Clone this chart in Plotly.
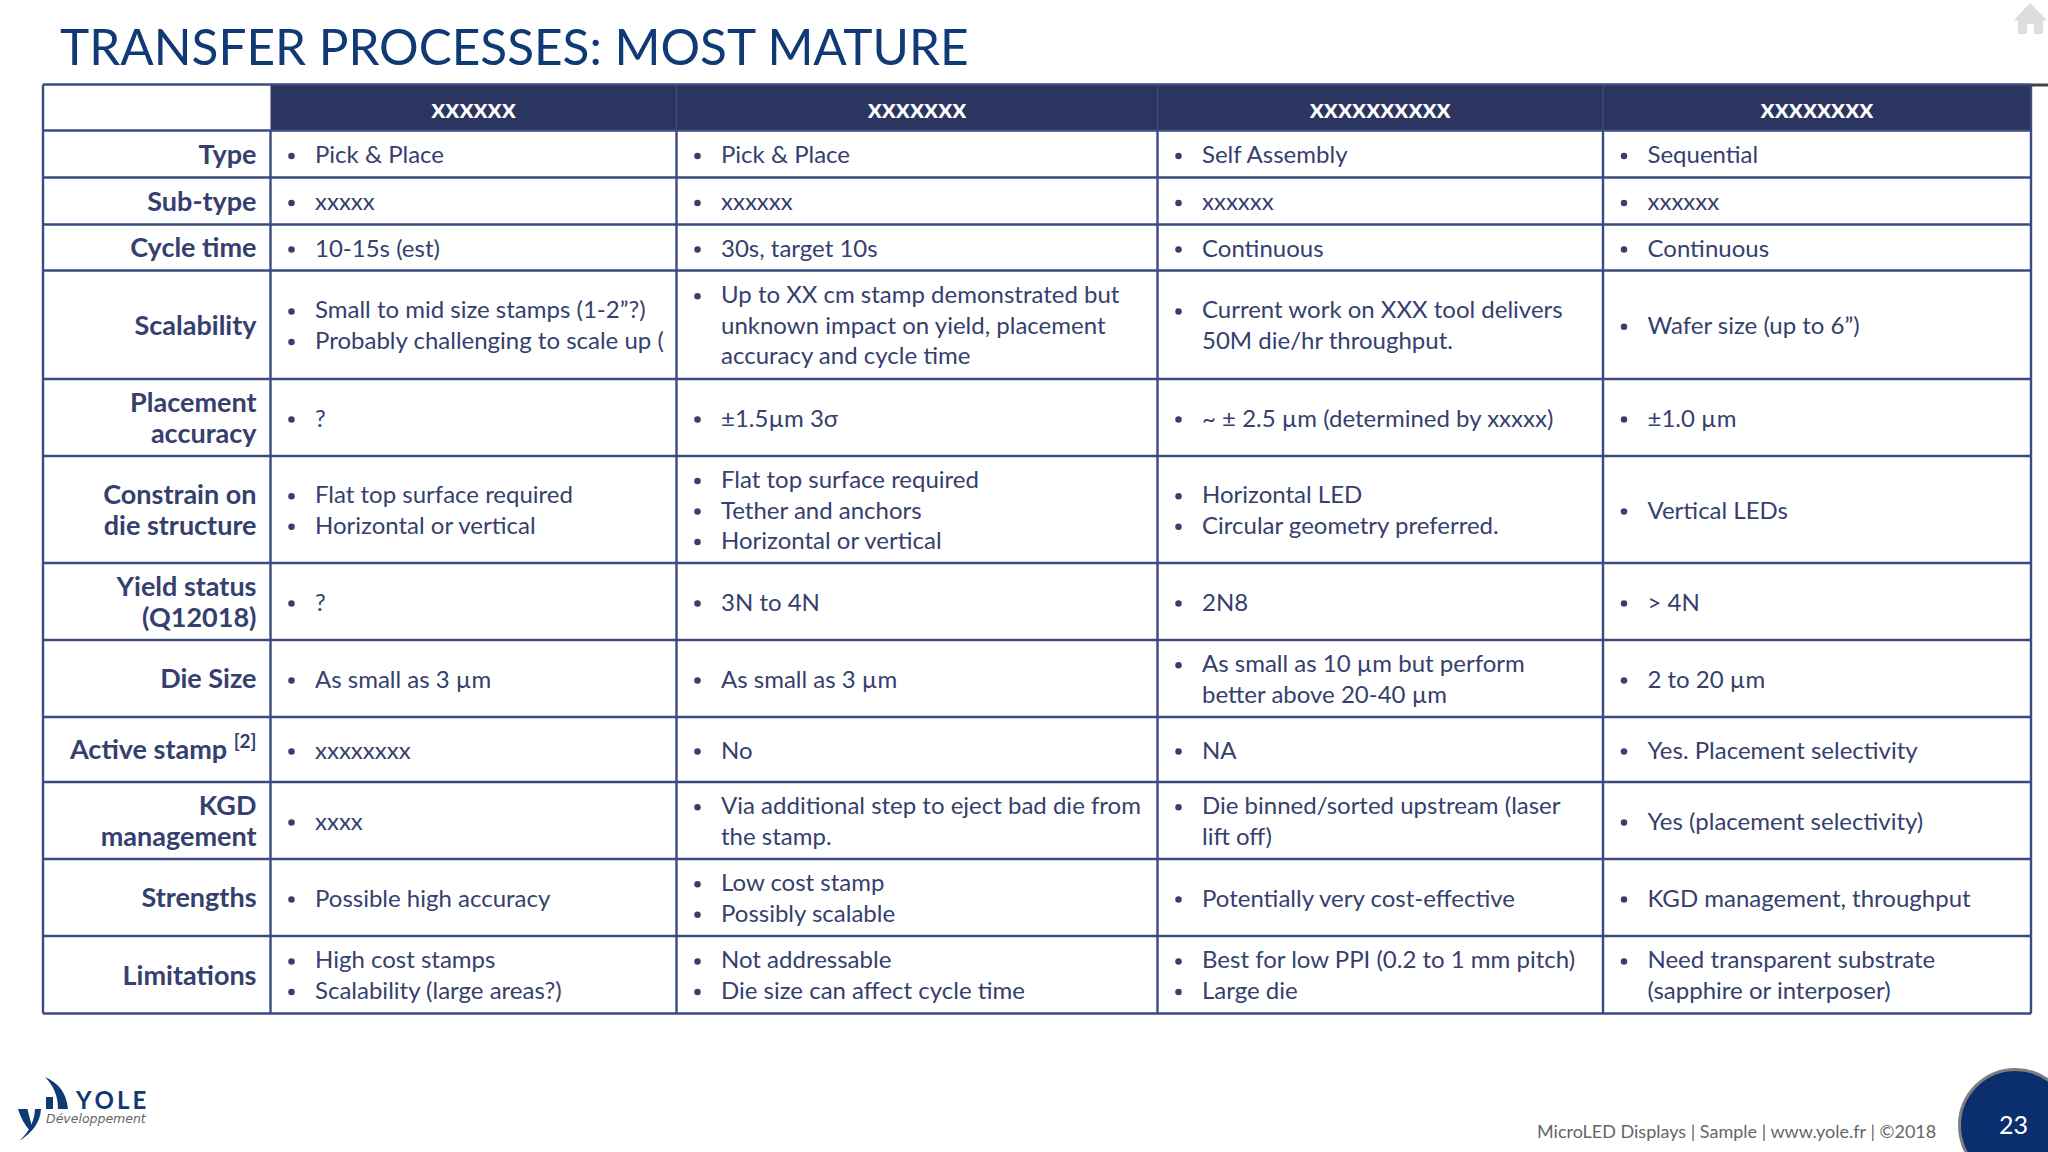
import plotly.graph_objects as go

TITLE = "TRANSFER PROCESSES: MOST MATURE"
FOOTER = "MicroLED Displays | Sample | www.yole.fr | ©2018"
PAGE = "23"

column_heads = ["xxxxxx", "xxxxxxx", "xxxxxxxxxx", "xxxxxxxx"]
row_labels = [
    ["Type"], ["Sub-type"], ["Cycle time"], ["Scalability"],
    ["Placement", "accuracy"], ["Constrain on", "die structure"],
    ["Yield status", "(Q12018)"], ["Die Size"], ["Active stamp <sup>[2]</sup>"],
    ["KGD", "management"], ["Strengths"], ["Limitations"],
]
# Each cell is a list of bullets; each bullet a list of wrapped lines
col_a = [
    [["Pick & Place"]], [["xxxxx"]], [["10-15s (est)"]],
    [["Small to mid size stamps (1-2”?)"], ["Probably challenging to scale up ("]],
    [["?"]],
    [["Flat top surface required"], ["Horizontal or vertical"]],
    [["?"]], [["As small as 3 µm"]], [["xxxxxxxx"]], [["xxxx"]],
    [["Possible high accuracy"]],
    [["High cost stamps"], ["Scalability (large areas?)"]],
]
col_b = [
    [["Pick & Place"]], [["xxxxxx"]], [["30s, target 10s"]],
    [["Up to XX cm stamp demonstrated but", "unknown impact on yield, placement", "accuracy and cycle time"]],
    [["±1.5µm 3σ"]],
    [["Flat top surface required"], ["Tether and anchors"], ["Horizontal or vertical"]],
    [["3N to 4N"]], [["As small as 3 µm"]], [["No"]],
    [["Via additional step to eject bad die from", "the stamp."]],
    [["Low cost stamp"], ["Possibly scalable"]],
    [["Not addressable"], ["Die size can affect cycle time"]],
]
col_c = [
    [["Self Assembly"]], [["xxxxxx"]], [["Continuous"]],
    [["Current work on XXX tool delivers", "50M die/hr throughput."]],
    [["~ ± 2.5 µm (determined by xxxxx)"]],
    [["Horizontal LED"], ["Circular geometry preferred."]],
    [["2N8"]],
    [["As small as 10 µm but perform", "better above 20-40 µm"]],
    [["NA"]],
    [["Die binned/sorted upstream (laser", "lift off)"]],
    [["Potentially very cost-effective"]],
    [["Best for low PPI (0.2 to 1 mm pitch)"], ["Large die"]],
]
col_d = [
    [["Sequential"]], [["xxxxxx"]], [["Continuous"]],
    [["Wafer size (up to 6”)"]],
    [["±1.0 µm"]],
    [["Vertical LEDs"]],
    [["> 4N"]], [["2 to 20 µm"]],
    [["Yes. Placement selectivity"]],
    [["Yes (placement selectivity)"]],
    [["KGD management, throughput"]],
    [["Need transparent substrate", "(sapphire or interposer)"]],
]
columns = [col_a, col_b, col_c, col_d]

# Table geometry (canvas units = page pixels)
col_edges = [43, 270.5, 676.5, 1157.5, 1603, 2031]
row_edges = [84.5, 130.5, 177.5, 224.5, 270.5, 379, 456, 563, 640, 717, 782, 859, 936, 1013.5]
LINE = 30.6
TEXT_DROP = 3
FONT = "Lato, 'Open Sans', sans-serif"
INK = "#35406e"
NAVY = "#2b3560"
GRID = "#3b4a80"
BLUE = "#0f3a75"

shapes = [dict(type="rect", x0=col_edges[1], x1=col_edges[-1], y0=row_edges[0], y1=row_edges[1],
               fillcolor=NAVY, line_width=0, layer="below")]

gx, gy = [], []
for i, x in enumerate(col_edges):
    y0 = row_edges[1] if (0 < i < len(col_edges) - 1) else row_edges[0]
    gx += [x, x, None]; gy += [y0, row_edges[-1], None]
for i, y in enumerate(row_edges):
    gx += [col_edges[0], col_edges[-1], None]; gy += [y, y, None]

fig = go.Figure()
fig.add_trace(go.Scatter(x=gx, y=gy, mode="lines", line=dict(color=GRID, width=2.4),
                         hoverinfo="skip", showlegend=False))
# header separators
fig.add_trace(go.Scatter(x=[e for c in col_edges[2:5] for e in (c, c, None)],
                         y=[e for c in col_edges[2:5] for e in (row_edges[0], row_edges[1], None)],
                         mode="lines", line=dict(color="#3f4a78", width=1.5),
                         hoverinfo="skip", showlegend=False))

# Column headings
fig.add_trace(go.Scatter(
    x=[(col_edges[i + 1] + col_edges[i + 2]) / 2 for i in range(4)],
    y=[(row_edges[0] + row_edges[1]) / 2 + 1 + TEXT_DROP] * 4,
    text=[f"<b>{h}</b>" for h in column_heads], mode="text", textposition="middle center",
    textfont=dict(family=FONT, size=27, color="white"), hoverinfo="skip", showlegend=False))

# Row labels
lx, ly, lt = [], [], []
for r, lines in enumerate(row_labels):
    cy = (row_edges[r + 1] + row_edges[r + 2]) / 2 + TEXT_DROP
    for k, t in enumerate(lines):
        lx.append(col_edges[1] - 14)
        ly.append(cy + (k - (len(lines) - 1) / 2) * LINE)
        lt.append(f"<b>{t}</b>")
fig.add_trace(go.Scatter(x=lx, y=ly, text=lt, mode="text", textposition="middle left",
                         textfont=dict(family=FONT, size=27, color=INK),
                         hoverinfo="skip", showlegend=False))

# Cell bodies
bx, by, tx, ty, tt = [], [], [], [], []
for c, col in enumerate(columns):
    left = col_edges[c + 1]
    for r, cell in enumerate(col):
        cy = (row_edges[r + 1] + row_edges[r + 2]) / 2 + TEXT_DROP
        n = sum(len(b) for b in cell)
        k = 0
        for bullet in cell:
            for j, line in enumerate(bullet):
                yy = cy + (k - (n - 1) / 2) * LINE
                if j == 0:
                    bx.append(left + 21); by.append(yy - 1)
                tx.append(left + 44.5); ty.append(yy); tt.append(line)
                k += 1
fig.add_trace(go.Scatter(x=bx, y=by, mode="markers", marker=dict(size=6.5, color=INK),
                         hoverinfo="skip", showlegend=False))
fig.add_trace(go.Scatter(x=tx, y=ty, text=tt, mode="text", textposition="middle right",
                         textfont=dict(family=FONT, size=24, color=INK),
                         hoverinfo="skip", showlegend=False))

# Slide furniture
shapes += [
    dict(type="line", x0=2031, x1=2048, y0=85, y1=85, line=dict(color="#444444", width=3)),
    dict(type="circle", x0=1959.5, x1=2071.5, y0=1069.5, y1=1181.5, fillcolor="#0b2f6e",
         line=dict(color="#7f7f7f", width=3), layer="above"),
    # home icon
    dict(type="path", path="M2030 3 L2047 20 L2043 21 L2043 34 L2034 34 L2034 24 L2027 24 L2027 34 L2018 34 L2018 21 L2014 20 Z",
         fillcolor="#dddddd", line_width=0),
    # logo
    dict(type="path", path="M18 1109 L27.5 1109 Q30 1120 32 1126 L30 1131 Q22 1122 18 1109 Z", fillcolor=BLUE, line_width=0),
    dict(type="path", path="M35 1109 L41 1109 Q40 1128 19 1141 Q34 1128 35 1109 Z", fillcolor=BLUE, line_width=0),
    dict(type="rect", x0=46, x1=53, y0=1097, y1=1109, fillcolor=BLUE, line_width=0),
    dict(type="path", path="M45 1077 Q66 1086 68 1109 L58 1109 Q58 1090 45 1077 Z", fillcolor=BLUE, line_width=0),
]

annotations = [
    dict(x=58, y=45.5, text=TITLE, showarrow=False, xanchor="left", yanchor="middle",
         font=dict(family=FONT, size=49.5, color=BLUE)),
    dict(x=1534.5, y=1131, text=FOOTER, showarrow=False, xanchor="left", yanchor="middle",
         font=dict(family=FONT, size=18, color="#666666")),
    dict(x=2013, y=1124, text=PAGE, showarrow=False, xanchor="center", yanchor="middle",
         font=dict(family=FONT, size=25, color="white")),
    dict(x=73, y=1099, text="<b>Y\u2009O\u2009L\u2009E</b>", showarrow=False, xanchor="left", yanchor="middle",
         font=dict(family=FONT, size=24, color=BLUE)),
    dict(x=44, y=1118, text="<i>Développement</i>", showarrow=False, xanchor="left", yanchor="middle",
         font=dict(family="'DejaVu Sans'", size=12.5, color="#666666")),
]

fig.update_layout(
    width=2048, height=1152, margin=dict(l=0, r=0, t=0, b=0),
    paper_bgcolor="white", plot_bgcolor="white", showlegend=False,
    shapes=shapes, annotations=annotations,
    xaxis=dict(range=[0, 2048], visible=False, fixedrange=True),
    yaxis=dict(range=[1152, 0], visible=False, fixedrange=True),
)
fig.write_html("out.html", config=dict(displayModeBar=False),
               post_script="document.body.style.margin='0';document.body.style.overflow='hidden';")
